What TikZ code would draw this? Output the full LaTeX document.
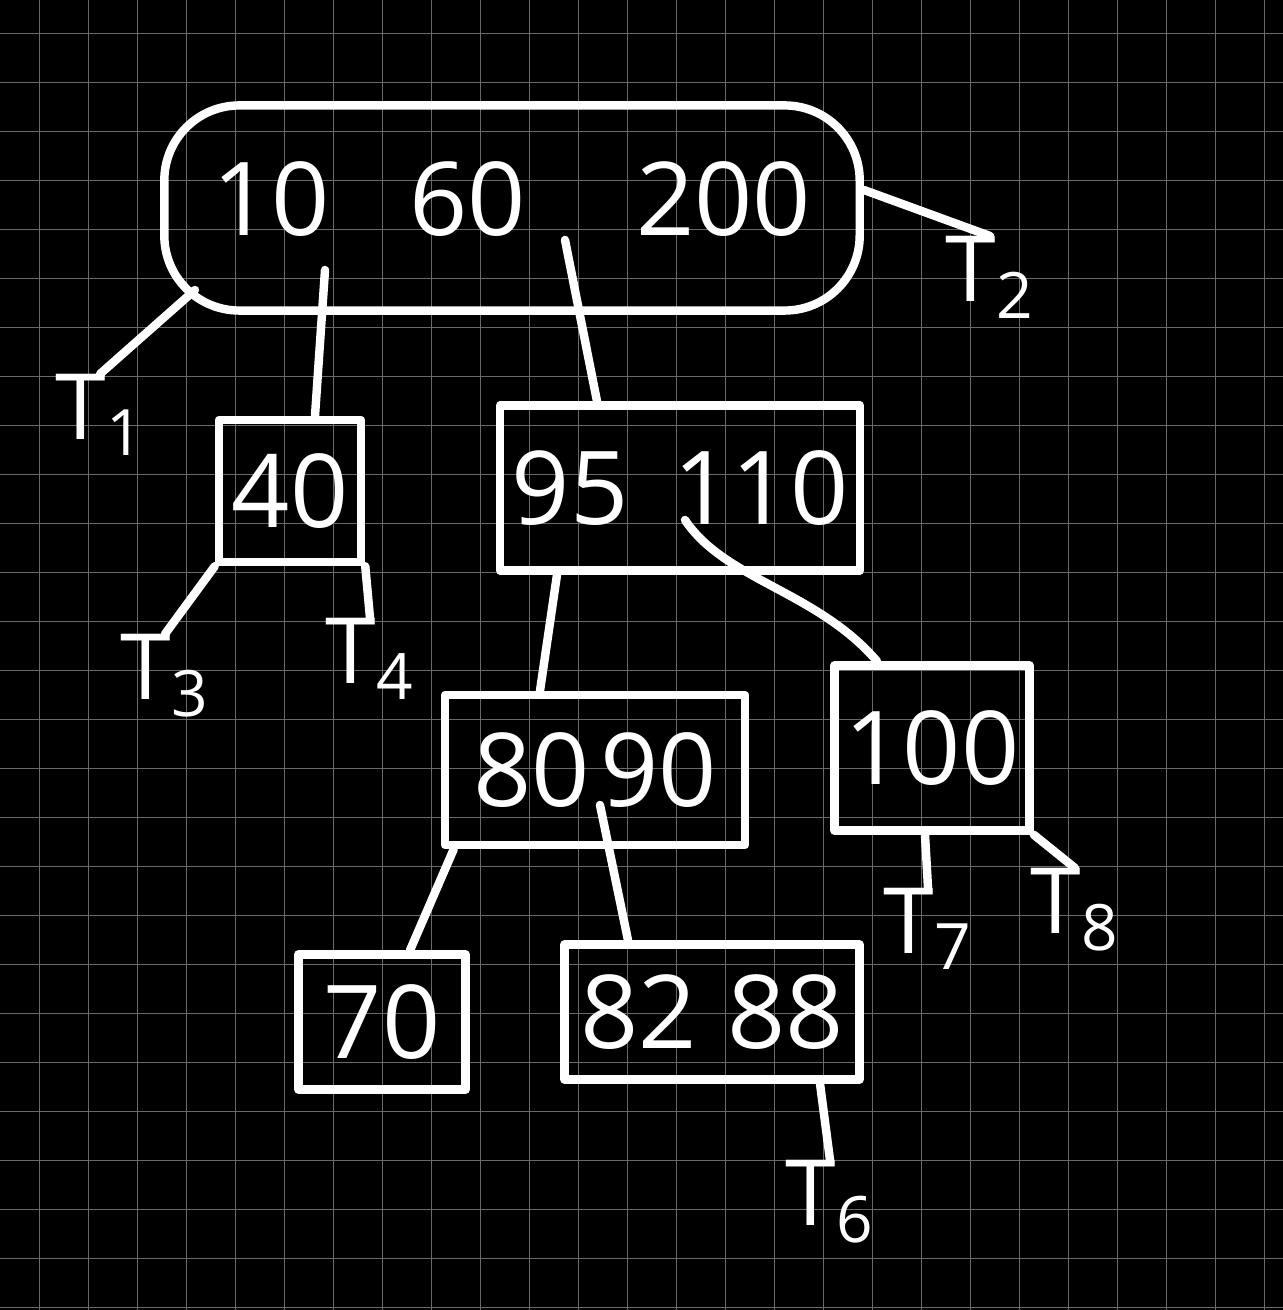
\documentclass[tikz,border=0pt]{standalone}
\usepackage{fontspec}
\setmainfont{Open Sans}
\usetikzlibrary{positioning,calc}
\definecolor{boardblack}{RGB}{0,0,0}
\definecolor{gridgray}{RGB}{105,105,105}
\definecolor{chalkwhite}{RGB}{255,255,255}

\begin{document}
\begin{tikzpicture}[x=0.01cm,y=-0.01cm,
    chalk/.style={draw=chalkwhite, line width=2.4pt, line cap=round, line join=round},
    keybox/.style={chalk, rectangle, text=chalkwhite, inner sep=0pt, font=\fontsize{29}{33}\selectfont},
    leaflabel/.style={text=chalkwhite, anchor=north, inner sep=0pt, font=\fontsize{26}{30}\selectfont}]
    % Board and grid
    \fill[boardblack] (0,0) rectangle (1283,1310);
    \useasboundingbox (0,0) rectangle (1283,1310);
    \foreach \gx in {39.3,88.3,...,1283}
        \draw[gridgray, line width=0.4pt] (\gx,0) -- (\gx,1310);
    \foreach \gy in {33.3,82.3,...,1310}
        \draw[gridgray, line width=0.4pt] (0,\gy) -- (1283,\gy);

    % Root node
    \node[keybox, rounded corners=0.75cm, minimum width=6.95cm, minimum height=2.05cm] (root) at (512,208) {\raisebox{0.18cm}{10\hspace{0.8cm}60\hspace{1.1cm}200}};

    % Second level
    \node[keybox, minimum width=1.42cm, minimum height=1.42cm] (n40) at (290,491) {40};
    \node[keybox, minimum width=3.6cm, minimum height=1.65cm] (n95) at (680,488) {95\hspace{0.45cm}110};

    % Third level
    \node[keybox, minimum width=3.0cm, minimum height=1.5cm] (n8090) at (595,770) {80\hspace{0.1cm}90};
    \node[keybox, minimum width=1.95cm, minimum height=1.65cm] (n100) at (932,748) {100};

    % Fourth level
    \node[keybox, minimum width=1.67cm, minimum height=1.35cm] (n70) at (382,1022) {70};
    \node[keybox, minimum width=2.95cm, minimum height=1.35cm] (n8288) at (712,1012) {82\hspace{0.3cm}88};

    % Subtree labels
    \node[leaflabel] (t1) at (100,374) {T\textsubscript{1}};
    \node[leaflabel] (t2) at (990,236) {T\textsubscript{2}};
    \node[leaflabel] (t3) at (165,634) {T\textsubscript{3}};
    \node[leaflabel] (t4) at (370,618) {T\textsubscript{4}};
    \node[leaflabel] (t7) at (928,888) {T\textsubscript{7}};
    \node[leaflabel] (t8) at (1075,868) {T\textsubscript{8}};
    \node[leaflabel] (t6) at (830,1160) {T\textsubscript{6}};

    % Child pointers
    \draw[chalk] ($(root.center)+(-187,62)$) -- ($(n40.north)+(25,0)$);
    \draw[chalk] ($(root.center)+(53,32)$) -- ($(n95.north)+(-83,0)$);
    \draw[chalk] ($(n95.south)+(-123,0)$) -- ($(n8090.north)+(-55,0)$);
    \draw[chalk] ($(n95.center)+(5,32)$) .. controls +(40,60) and +(-60,-70) .. ($(n100.north)+(-55,0)$);
    \draw[chalk] ($(n8090.south west)+(13,0)$) -- ($(n70.north)+(28,0)$);
    \draw[chalk] ($(n8090.center)+(5,35)$) -- ($(n8288.north)+(-84,0)$);

    % Pointers to subtrees
    \draw[chalk] ($(root.center)+(-317,82)$) -- (t1.north);
    \draw[chalk] ($(root.east)+(0,-18)$) -- (t2.north);
    \draw[chalk] (n40.south west) -- (t3.north);
    \draw[chalk] (n40.south east) -- (t4.north);
    \draw[chalk] ($(n100.south)+(-7,0)$) -- (t7.north);
    \draw[chalk] (n100.south east) -- (t8.north);
    \draw[chalk] ($(n8288.south)+(108,0)$) -- (t6.north);
\end{tikzpicture}
\end{document}
